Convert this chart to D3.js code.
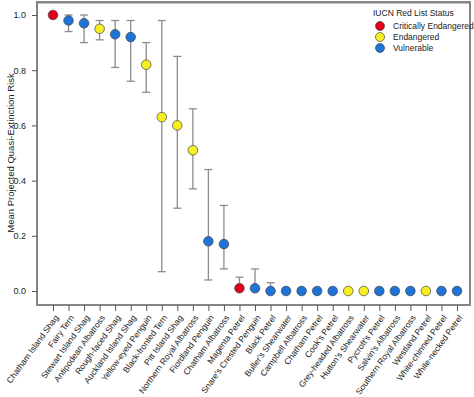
<!DOCTYPE html>
<html>
<head>
  <style type="text/css">
    body { margin: 0; background: #fff; }
    svg { font-family: "Liberation Sans", Arial, sans-serif; }
  </style>
</head>
<body>
  <script src="https://cdn.jsdelivr.net/npm/d3@7"></script>
  <script>
    // species, ordered as on the x axis
    var species = ["Chatham Island Shag", "Fairy Tern", "Stewart Island Shag", "Antipodean Albatross",
      "Rough-faced Shag", "Auckland Island Shag", "Yellow-eyed Penguin", "Black-fronted Tern",
      "Pitt Island Shag", "Northern Royal Albatross", "Fiordland Penguin", "Chatham Albatross",
      "Magenta Petrel", "Snare's Crested Penguin", "Black Petrel", "Buller's Shearwater",
      "Campbell Albatross", "Chatham Petrel", "Cook's Petrel", "Grey-headed Albatross",
      "Hutton's Shearwater", "Pycroft's Petrel", "Salvin's Albatross", "Southern Royal Albatross",
      "Westland Petrel", "White-chinned Petrel", "White-necked Petrel"];
    var iucnStatus = ["CR", "VU", "VU", "EN", "VU", "VU", "EN", "EN", "EN", "EN", "VU", "VU", "CR", "VU",
      "VU", "VU", "VU", "VU", "VU", "EN", "EN", "VU", "VU", "VU", "EN", "VU", "VU"];
    var meanRisk = [1.0, 0.98, 0.97, 0.95, 0.93, 0.92, 0.82, 0.63, 0.60, 0.51, 0.18, 0.17, 0.01, 0.01,
      0, 0, 0, 0, 0, 0, 0, 0, 0, 0, 0, 0, 0];
    var lower = [1.0, 0.94, 0.90, 0.91, 0.81, 0.76, 0.72, 0.07, 0.30, 0.37, 0.04, 0.08, 0.01, 0.0,
      0, 0, 0, 0, 0, 0, 0, 0, 0, 0, 0, 0, 0];
    var upper = [1.0, 1.0, 1.0, 0.98, 0.98, 0.98, 0.90, 0.98, 0.85, 0.66, 0.44, 0.31, 0.05, 0.08,
      0.03, 0, 0, 0, 0, 0, 0, 0, 0, 0, 0, 0, 0];
    var yTicks = [0, 0.2, 0.4, 0.6, 0.8, 1.0];
    var legendKeys = ["CR", "EN", "VU"];
    var legendLabels = ["Critically Endangered", "Endangered", "Vulnerable"];
    var colors = {CR: "#e3001b", EN: "#f7ef21", VU: "#1d74d6"};

    var w = 474, h = 397;
    var m = {left: 37, right: 470, top: 2, bottom: 305};

    var svg = d3.select("body").append("svg")
      .attr("width", w)
      .attr("height", h)
      .style("display", "block");

    var x = d3.scalePoint()
      .domain(species)
      .range([53, 457]);

    var y = d3.scaleLinear()
      .domain([0, 1])
      .range([291, 15]);

    // plot box: gray panel with a white panel laid over it
    svg.append("rect")
      .attr("x", m.left - 1).attr("y", m.top - 1)
      .attr("width", m.right - m.left + 2).attr("height", m.bottom - m.top + 2)
      .attr("fill", "#858585");
    svg.append("rect")
      .attr("x", m.left + 1).attr("y", m.top + 1.5)
      .attr("width", m.right - m.left - 2).attr("height", m.bottom - m.top - 2.5)
      .attr("fill", "#ffffff");

    // y axis
    var yAxis = svg.append("g")
      .attr("transform", "translate(" + m.left + ",0)")
      .call(d3.axisLeft(y).tickValues(yTicks).tickFormat(d3.format(".1f")).tickSize(5).tickPadding(6));
    yAxis.select(".domain").remove();
    yAxis.selectAll("line").attr("stroke", "#555");
    yAxis.selectAll("text").attr("fill", "#222").style("font-size", "9px")
      .style("font-family", "Liberation Sans, Arial, sans-serif");

    // x axis
    var xAxis = svg.append("g")
      .attr("transform", "translate(0," + m.bottom + ")")
      .call(d3.axisBottom(x).tickSize(6).tickPadding(3));
    xAxis.select(".domain").remove();
    xAxis.selectAll("line").attr("stroke", "#555");
    xAxis.selectAll("text")
      .attr("fill", "#222")
      .style("font-size", "8.5px")
      .style("font-family", "Liberation Sans, Arial, sans-serif")
      .attr("text-anchor", "end")
      .attr("dy", "0.35em")
      .attr("y", 0).attr("x", 0)
      .attr("transform", "translate(3,11) rotate(-54)");

    // y label
    svg.append("text")
      .attr("transform", "translate(11," + y(0.5) + ") rotate(-90)")
      .attr("text-anchor", "middle")
      .attr("dy", "0.35em")
      .style("font-size", "9.5px")
      .attr("fill", "#222")
      .text("Mean Projected Quasi-Extinction Risk");

    var idx = d3.range(species.length);

    // error bars
    var bars = svg.append("g")
      .attr("stroke", "#8c8c8c")
      .attr("stroke-width", 1.3);
    idx.filter(function(i) { return upper[i] - lower[i] > 0.001; }).forEach(function(i) {
      var cx = x(species[i]);
      bars.append("line").attr("x1", cx).attr("x2", cx).attr("y1", y(upper[i])).attr("y2", y(lower[i]));
      bars.append("line").attr("x1", cx - 4).attr("x2", cx + 4).attr("y1", y(upper[i])).attr("y2", y(upper[i]));
      if (lower[i] > 0.001) {
        bars.append("line").attr("x1", cx - 4).attr("x2", cx + 4).attr("y1", y(lower[i])).attr("y2", y(lower[i]));
      }
    });

    // points
    svg.append("g").selectAll("circle")
      .data(idx)
      .enter()
      .append("circle")
      .attr("cx", function(i) { return x(species[i]); })
      .attr("cy", function(i) { return y(meanRisk[i]); })
      .attr("r", 4.8)
      .attr("fill", function(i) { return colors[iucnStatus[i]]; })
      .attr("stroke", "#444")
      .attr("stroke-width", 0.7);

    // legend
    var legend = svg.append("g");
    legend.append("text")
      .attr("x", 373).attr("y", 16)
      .style("font-size", "8.5px")
      .attr("fill", "#222")
      .text("IUCN Red List Status");
    legendKeys.forEach(function(k, i) {
      legend.append("circle")
        .attr("cx", 380).attr("cy", 26 + i * 11)
        .attr("r", 4.5)
        .attr("fill", colors[k])
        .attr("stroke", "#444")
        .attr("stroke-width", 0.7);
      legend.append("text")
        .attr("x", 393).attr("y", 26 + i * 11)
        .attr("dy", "0.35em")
        .style("font-size", "8.5px")
        .attr("fill", "#222")
        .text(legendLabels[i]);
    });
  </script>
</body>
</html>
